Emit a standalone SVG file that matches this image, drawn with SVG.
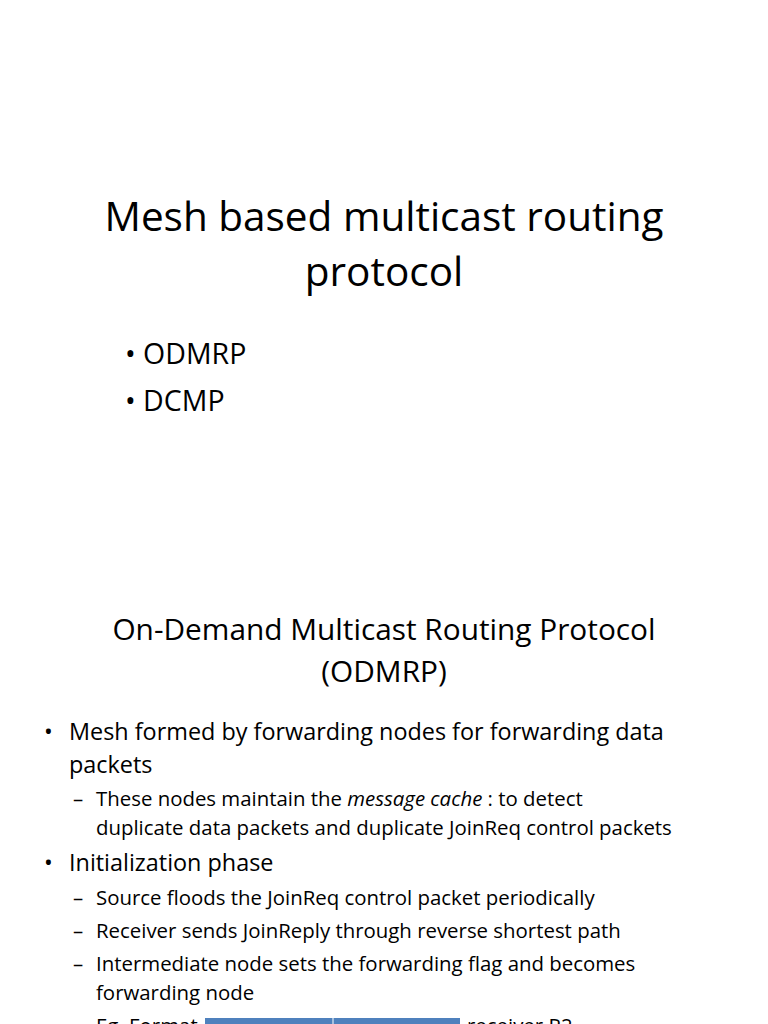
<svg xmlns="http://www.w3.org/2000/svg" width="768" height="1024" viewBox="0 0 768 1024">
<style>
text{font-family:"Open Sans","Liberation Sans",sans-serif;fill:#000}
.t{font-size:40.5px;text-anchor:middle}
.t2{font-size:29.8px;text-anchor:middle}
.b{font-size:28.5px}
.l1{font-size:23.4px}
.l2{font-size:20.4px}
</style>
<rect width="768" height="1024" fill="#fff"/>
<text class="t" x="384" y="231">Mesh based multicast routing</text>
<text class="t" x="384" y="286">protocol</text>
<text class="b" x="125" y="364">• ODMRP</text>
<text class="b" x="125" y="411">• DCMP</text>
<text class="t2" x="384" y="640">On-Demand Multicast Routing Protocol</text>
<text class="t2" x="384" y="682">(ODMRP)</text>
<text class="l1" x="44" y="740">•</text>
<text class="l1" x="69" y="740">Mesh formed by forwarding nodes for forwarding data</text>
<text class="l1" x="69" y="773">packets</text>
<text class="l2" x="73" y="806">–</text>
<text class="l2" x="96" y="806">These nodes maintain the <tspan font-style="italic">message cache</tspan> : to detect</text>
<text class="l2" x="96" y="835">duplicate data packets and duplicate JoinReq control packets</text>
<text class="l1" x="44" y="871">•</text>
<text class="l1" x="69" y="871">Initialization phase</text>
<text class="l2" x="73" y="905">–</text>
<text class="l2" x="96" y="905">Source floods the JoinReq control packet periodically</text>
<text class="l2" x="73" y="938">–</text>
<text class="l2" x="96" y="938">Receiver sends JoinReply through reverse shortest path</text>
<text class="l2" x="73" y="971">–</text>
<text class="l2" x="96" y="971">Intermediate node sets the forwarding flag and becomes</text>
<text class="l2" x="96" y="1000">forwarding node</text>
<text class="l2" x="73" y="1033">–</text>
<text class="l2" x="96" y="1033">Eg. Format</text>
<rect x="205" y="1018" width="255" height="10" fill="#4F81BD"/>
<line x1="333" y1="1018" x2="333" y2="1024" stroke="#fff"/>
<text class="l2" x="467" y="1033">receiver R2</text>
</svg>
